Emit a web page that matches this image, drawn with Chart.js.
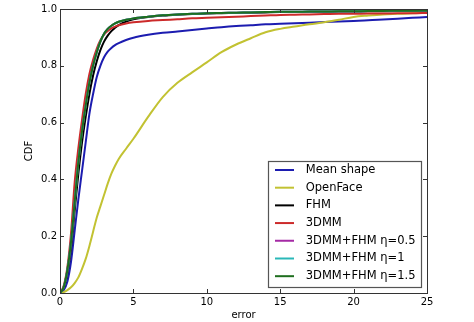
<!DOCTYPE html>
<html>
<head>
<meta charset="utf-8">
<script src="https://cdn.jsdelivr.net/npm/chart.js@4/dist/chart.umd.min.js"></script>
<style>
html,body{margin:0;padding:0;background:#fff;}
canvas{display:block;}
</style>
</head>
<body>
<canvas id="c" width="474" height="322"></canvas>
<script>
// ---- data ----
const errorGrid = [0,0.25,0.5,0.75,1,1.25,1.5,1.75,2,2.25,2.5,2.75,3,3.25,3.5,3.75,4,4.5,5,6,7,8,9,10,11,12,13,14,15,16,17,18,19,20,21,22,23,24,25];
const meanShape = [0,0.01,0.04,0.11,0.22,0.33,0.43,0.53,0.63,0.70,0.76,0.80,0.83,0.85,0.863,0.873,0.88,0.891,0.899,0.909,0.916,0.921,0.926,0.931,0.936,0.94,0.943,0.946,0.948,0.95,0.952,0.954,0.956,0.958,0.96,0.963,0.966,0.969,0.972];
const openFace  = [0,0.003,0.01,0.02,0.035,0.055,0.085,0.12,0.165,0.215,0.265,0.305,0.345,0.385,0.42,0.448,0.472,0.508,0.543,0.62,0.69,0.74,0.777,0.812,0.848,0.875,0.897,0.918,0.93,0.938,0.946,0.953,0.962,0.972,0.977,0.981,0.983,0.985,0.986];
const fhm       = [0,0.018,0.07,0.16,0.29,0.42,0.53,0.62,0.70,0.765,0.815,0.855,0.885,0.906,0.922,0.934,0.943,0.956,0.964,0.972,0.977,0.98,0.982,0.984,0.985,0.986,0.987,0.988,0.989,0.989,0.99,0.99,0.991,0.991,0.992,0.992,0.993,0.993,0.994];
const dmm       = [0,0.025,0.09,0.21,0.39,0.51,0.61,0.70,0.77,0.82,0.86,0.89,0.91,0.923,0.932,0.938,0.943,0.949,0.953,0.958,0.961,0.964,0.967,0.969,0.971,0.973,0.975,0.977,0.979,0.98,0.981,0.982,0.983,0.983,0.984,0.984,0.985,0.985,0.986];
const combo05   = [0,0.02,0.08,0.18,0.32,0.46,0.57,0.66,0.74,0.80,0.847,0.885,0.913,0.93,0.941,0.949,0.955,0.962,0.967,0.973,0.978,0.981,0.983,0.985,0.986,0.987,0.988,0.989,0.99,0.99,0.991,0.991,0.992,0.992,0.993,0.993,0.994,0.994,0.995];
const combo1    = [0,0.02,0.08,0.18,0.32,0.46,0.57,0.66,0.74,0.80,0.847,0.885,0.913,0.93,0.941,0.949,0.955,0.962,0.967,0.973,0.978,0.981,0.983,0.985,0.986,0.987,0.988,0.989,0.99,0.99,0.991,0.991,0.992,0.992,0.993,0.993,0.994,0.994,0.995];
const combo15   = [0,0.02,0.08,0.18,0.32,0.46,0.57,0.66,0.74,0.80,0.847,0.885,0.913,0.93,0.941,0.949,0.955,0.962,0.967,0.973,0.978,0.981,0.983,0.985,0.986,0.987,0.988,0.989,0.99,0.99,0.991,0.991,0.992,0.992,0.993,0.993,0.994,0.994,0.995];
const seriesNames = ['Mean shape','OpenFace','FHM','3DMM','3DMM+FHM η=0.5','3DMM+FHM η=1','3DMM+FHM η=1.5'];
const seriesValues = [meanShape, openFace, fhm, dmm, combo05, combo1, combo15];
const seriesColors = ['#1c1cb0','#c2c232','#000000','#cc2a2a','#a52aa5','#2ab8b8','#1e6e1e'];
const xTicks = [0,5,10,15,20,25];
const yTicks = [0,0.2,0.4,0.6,0.8,1.0];

// legend line sample: 19px line, then gap inside a 25px box
function legendSample(color){
  const cv = document.createElement('canvas');
  cv.width = 25; cv.height = 4;
  const g = cv.getContext('2d');
  g.strokeStyle = color; g.lineWidth = 2;
  g.beginPath(); g.moveTo(0,2); g.lineTo(19,2); g.stroke();
  return cv;
}

const FRAME = '#333';

const framePlugin = {
  id: 'frameTicks',
  afterLayout(chart){
    const lg = chart.legend;
    if (lg){
      lg.left = 268.8; lg.top = 158;
      lg.right = lg.left + lg.width;
      lg.bottom = 322; lg.height = lg.bottom - lg.top;
    }
  },
  afterDraw(chart){
    const ctx = chart.ctx, a = chart.chartArea;
    const xs = chart.scales.x, ys = chart.scales.y;
    ctx.save();
    ctx.strokeStyle = FRAME; ctx.lineWidth = 1;
    // inward ticks on all four sides
    ctx.beginPath();
    xs.ticks.forEach((t,i)=>{
      const p = Math.round(xs.getPixelForTick(i)) + 0.5;
      ctx.moveTo(p, a.bottom); ctx.lineTo(p, a.bottom - 4);
      ctx.moveTo(p, a.top); ctx.lineTo(p, a.top + 4);
    });
    ys.ticks.forEach((t,i)=>{
      const p = Math.round(ys.getPixelForTick(i)) + 0.5;
      ctx.moveTo(a.left, p); ctx.lineTo(a.left + 4, p);
      ctx.moveTo(a.right, p); ctx.lineTo(a.right - 4, p);
    });
    ctx.stroke();
    // frame
    ctx.strokeRect(Math.round(a.left)+0.5, Math.round(a.top)+0.5, Math.round(a.right-a.left), Math.round(a.bottom-a.top));
    // legend border
    const hb = chart.legend && chart.legend.legendHitBoxes;
    if (hb && hb.length){
      let l = Infinity, r = -Infinity, t = Infinity, b = -Infinity;
      hb.forEach(h=>{ l=Math.min(l,h.left); r=Math.max(r,h.left+h.width); t=Math.min(t,h.top); b=Math.max(b,h.top+h.height); });
      const L = Math.round(l-7)+0.5, T = Math.round(t-3)+0.5, R = Math.round(r+6)+0.5, B = Math.round(b+5)+0.5;
      ctx.lineWidth = 1.2;
      ctx.strokeStyle = '#555';
      ctx.strokeRect(L, T, R-L, B-T);
    }
    ctx.restore();
  }
};

const datasets = seriesNames.map((name,i)=>({
  label: name,
  data: errorGrid.map((x,j)=>({x: x, y: seriesValues[i][j]})),
  borderColor: seriesColors[i],
  backgroundColor: seriesColors[i],
  borderWidth: 2,
  pointRadius: 0,
  pointHoverRadius: 0,
  pointStyle: legendSample(seriesColors[i]),
  cubicInterpolationMode: 'monotone',
  fill: false,
  order: seriesNames.length - i
}));

new Chart(document.getElementById('c'), {
  type: 'line',
  data: { datasets },
  plugins: [framePlugin],
  options: {
    responsive: false,
    animation: false,
    devicePixelRatio: 1,
    layout: { padding: { left: 0, right: 47, top: 8, bottom: 0 } },
    plugins: {
      legend: {
        position: 'chartArea',
        align: 'start',
        labels: {
          usePointStyle: true,
          pointStyleWidth: 25,
          boxHeight: 12,
          padding: 6.2,
          color: '#000',
          font: { family: 'DejaVu Sans', size: 11.5 },
          sort: (a,b)=>a.datasetIndex - b.datasetIndex
        }
      },
      tooltip: { enabled: false }
    },
    scales: {
      x: {
        type: 'linear',
        min: 0, max: 25,
        afterFit(s){ s.height = 29; },
        afterBuildTicks(s){ s.ticks = xTicks.map(v=>({value:v})); },
        grid: { display: false, drawTicks: false },
        border: { display: false },
        ticks: { padding: 3, color: '#000', font: { family: 'DejaVu Sans', size: 10 }, maxRotation: 0, callback: v=>String(v) },
        title: { display: true, text: 'error', color: '#000', font: { family: 'DejaVu Sans', size: 10 }, padding: { top: 0, bottom: 1 } }
      },
      y: {
        type: 'linear',
        min: 0, max: 1,
        afterFit(s){ s.width = 60; },
        afterBuildTicks(s){ s.ticks = yTicks.map(v=>({value:v})); },
        grid: { display: false, drawTicks: false },
        border: { display: false },
        ticks: { padding: 3, color: '#000', font: { family: 'DejaVu Sans', size: 10 }, callback: v=>Number(v).toFixed(1) },
        title: { display: true, text: 'CDF', color: '#000', font: { family: 'DejaVu Sans', size: 10 }, padding: { top: 23, bottom: 0 } }
      }
    }
  }
});
</script>
</body>
</html>
